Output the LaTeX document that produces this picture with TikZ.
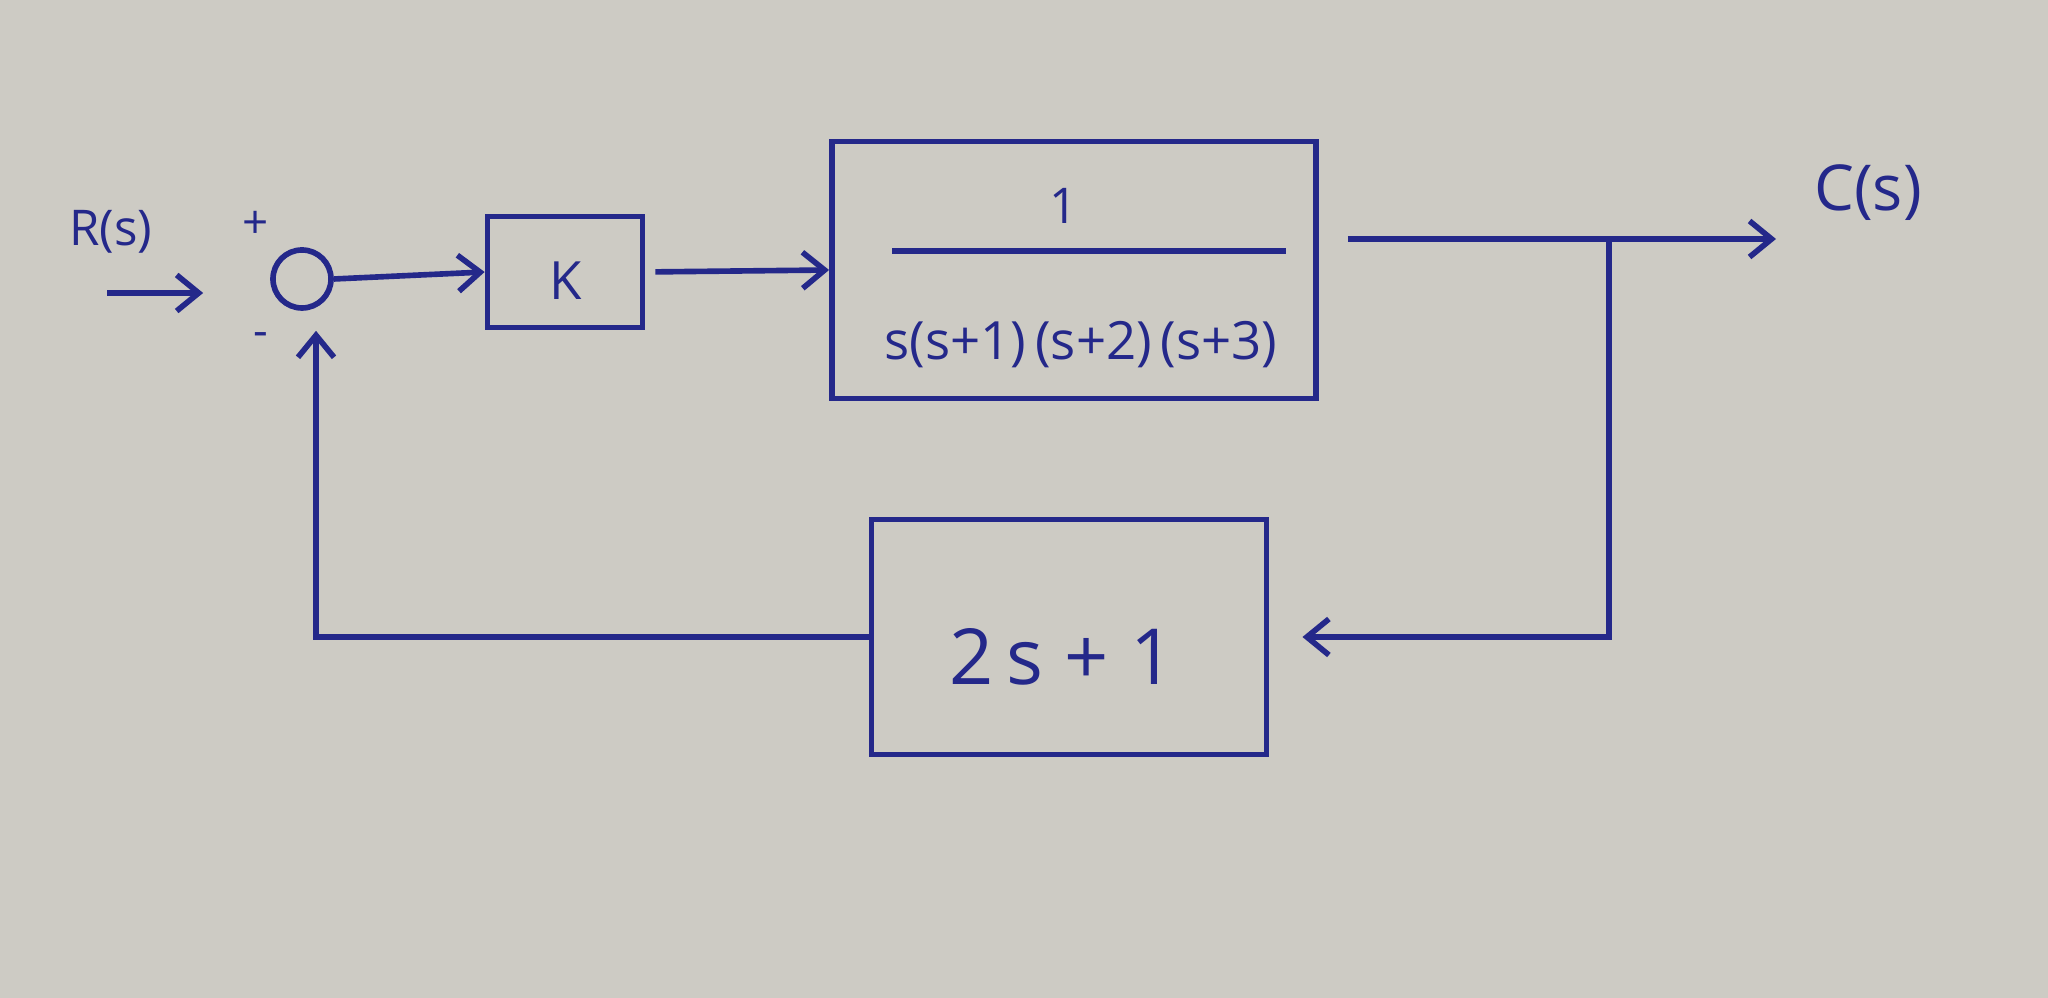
\documentclass[tikz,border=0pt]{standalone}
\usepackage{fontspec}
\setmainfont{Open Sans}
\usetikzlibrary{arrows.meta,calc}
\definecolor{paper}{RGB}{205,203,196}
\definecolor{ink}{RGB}{36,40,138}
\begin{document}
\begin{tikzpicture}[x=0.01cm,y=-0.01cm,
  ink/.style={draw=ink,line width=1.6pt},
  blk/.style={ink,rectangle,inner sep=0pt},
  arr/.style={ink,-{Straight Barb[length=2.2mm,width=3.6mm,line width=1.6pt]}},
  lbl/.style={text=ink,inner sep=0pt}]
\fill[paper] (0,0) rectangle (2048,998);
\useasboundingbox (0,0) rectangle (2048,998);
% blocks
\node[ink,circle,minimum size=0.58cm,inner sep=0pt] (sum) at (302,279) {};
\node[blk,minimum width=1.55cm,minimum height=1.11cm] (K) at (565,272) {};
\node[lbl,font=\fontsize{15}{18}\selectfont] (Kt) at (566,281) {K};
\node[blk,minimum width=4.84cm,minimum height=2.57cm] (G) at (1074,270) {};
\node[blk,minimum width=3.95cm,minimum height=2.35cm] (fb) at (1069,637) {};
\node[lbl,font=\fontsize{22}{26}\selectfont] (fbt) at (1062,657) {2\,s\;+\;1};
% transfer function text
\node[lbl,font=\fontsize{14}{17}\selectfont] (num) at (1064,206) {1};
\coordinate (fl) at (892,251);
\coordinate (fr) at (1286,251);
\draw[ink] (fl) -- (fr);
\node[lbl,font=\fontsize{15}{18}\selectfont] (den) at (1081,345) {s(s+1)\,(s+2)\,(s+3)};
% labels
\node[lbl,font=\fontsize{14}{17}\selectfont] (Rl) at (111,232) {R(s)};
\node[lbl,font=\fontsize{18}{21}\selectfont] (Cl) at (1868,193) {C(s)};
\node[lbl,font=\fontsize{13}{15}\selectfont] (plus) at (256,225) {+};
\node[lbl,font=\fontsize{13}{15}\selectfont] (minus) at (261,340) {-};
% connectors
\coordinate (in) at (107,293);
\coordinate (out) at (1776,239);
\coordinate (br) at (1609,239);
\coordinate (fbin) at ($(sum.south)+(14,0)$);
\draw[arr,shorten >=0.67cm] (in) -- (in -| sum.west);
\draw[arr] (sum.east) -- (K.west);
\draw[arr,shorten <=0.1cm] (K.east) -- (G.west);
\draw[arr,shorten <=0.29cm] (G.east |- out) -- (out);
\draw[arr,shorten >=0.33cm] (br) |- (fb.east);
\draw[arr,shorten >=0.2cm] (fb.west) -| (fbin);
\end{tikzpicture}
\end{document}
